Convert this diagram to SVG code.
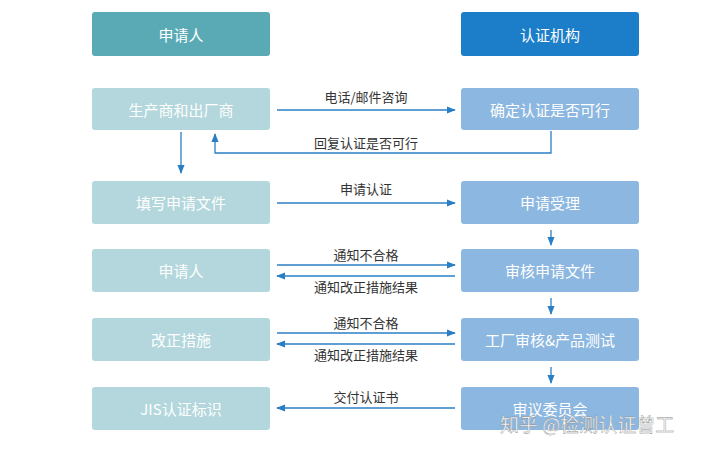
<svg xmlns="http://www.w3.org/2000/svg" width="720" height="454" viewBox="0 0 720 454">
<style>
text{font-family:"Noto Sans CJK SC","Noto Sans",sans-serif;}
.l{fill:#b3d7dc}.r{fill:#8cb7e0}
.t{fill:#fff;font-size:15px;text-anchor:middle;dominant-baseline:central}
.c{fill:#333;font-size:13px;text-anchor:middle}
.a{stroke:#2a7fc4;stroke-width:1.3;fill:none;marker-end:url(#m)}
</style>
<defs><marker id="m" viewBox="0 0 10 10" refX="9" refY="5" markerWidth="7" markerHeight="7" orient="auto"><path d="M0,1L10,5L0,9z" fill="#2a7fc4"/></marker></defs>
<rect width="720" height="454" fill="#fff"/>
<g id="h1"><rect x="92" y="12" width="178" height="44" rx="3" fill="#5aaab5"/><text class="t" x="181" y="34">申请人</text></g>
<g id="h2"><rect x="461" y="12" width="178" height="44" rx="3" fill="#1c7ec8"/><text class="t" x="550" y="34">认证机构</text></g>
<g id="l1"><rect class="l" x="92" y="88" width="178" height="42" rx="3"/><text class="t" x="181" y="109">生产商和出厂商</text></g>
<g id="l2"><rect class="l" x="92" y="181" width="178" height="43" rx="3"/><text class="t" x="181" y="202">填写申请文件</text></g>
<g id="l3"><rect class="l" x="92" y="249" width="178" height="43" rx="3"/><text class="t" x="181" y="270">申请人</text></g>
<g id="l4"><rect class="l" x="92" y="318" width="178" height="43" rx="3"/><text class="t" x="181" y="339">改正措施</text></g>
<g id="l5"><rect class="l" x="92" y="387" width="178" height="43" rx="3"/><text class="t" x="181" y="408">JIS认证标识</text></g>
<g id="r1"><rect class="r" x="461" y="88" width="178" height="42" rx="3"/><text class="t" x="550" y="109">确定认证是否可行</text></g>
<g id="r2"><rect class="r" x="461" y="181" width="178" height="43" rx="3"/><text class="t" x="550" y="202">申请受理</text></g>
<g id="r3"><rect class="r" x="461" y="249" width="178" height="43" rx="3"/><text class="t" x="550" y="270">审核申请文件</text></g>
<g id="r4"><rect class="r" x="461" y="318" width="178" height="43" rx="3"/><text class="t" x="550" y="339">工厂审核&amp;产品测试</text></g>
<g id="r5"><rect class="r" x="461" y="387" width="178" height="43" rx="3"/><text class="t" x="550" y="408">审议委员会</text></g>
<g id="connectors">
<path class="a" d="M277,110H455"/><text class="c" x="366" y="102">电话/邮件咨询</text>
<path class="a" d="M551,131V153H215V134"/><text class="c" x="366" y="148">回复认证是否可行</text>
<path class="a" d="M181,132V173"/>
<path class="a" d="M277,203H455"/><text class="c" x="366" y="194">申请认证</text>
<path class="a" d="M551,230V245"/><path class="a" d="M551,298V314"/><path class="a" d="M551,367V383"/>
<path class="a" d="M277,265H455"/><text class="c" x="366" y="260">通知不合格</text>
<path class="a" d="M455,276H277"/><text class="c" x="366" y="292">通知改正措施结果</text>
<path class="a" d="M277,333H455"/><text class="c" x="366" y="328">通知不合格</text>
<path class="a" d="M455,344H277"/><text class="c" x="366" y="360">通知改正措施结果</text>
<path class="a" d="M455,408H277"/><text class="c" x="366" y="402">交付认证书</text>
</g>
<text x="500" y="432" font-size="19" fill="#fff" stroke="#888" stroke-width="0.4">知乎 @检测认证曾工</text>
</svg>
